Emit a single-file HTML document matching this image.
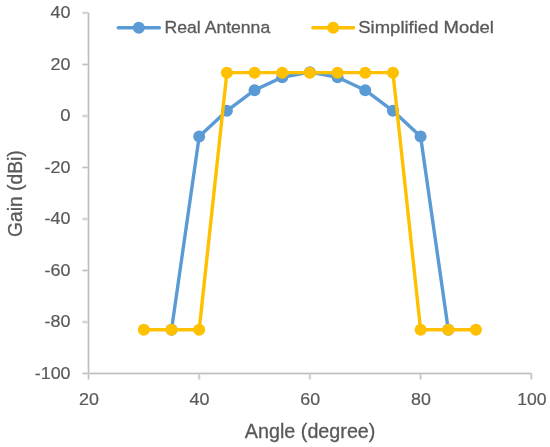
<!DOCTYPE html>
<html><head><meta charset="utf-8"><title>Gain vs Angle</title>
<style>
html,body{margin:0;padding:0;background:#fff;}
body{width:550px;height:447px;overflow:hidden;}
svg{display:block;font-family:'Liberation Sans', Arial, sans-serif;}
</style></head>
<body>
<svg width="550" height="447" viewBox="0 0 550 447">
<rect width="550" height="447" fill="#fff"/>
<path d="M88.50 12.90V373.50 M88.50 373.50H531.30 M82.50 373.50H88.50 M82.50 321.98H88.50 M82.50 270.47H88.50 M82.50 218.96H88.50 M82.50 167.44H88.50 M82.50 115.93H88.50 M82.50 64.41H88.50 M82.50 12.90H88.50 M88.50 373.50V379.50 M199.20 373.50V379.50 M309.90 373.50V379.50 M420.60 373.50V379.50 M531.30 373.50V379.50" stroke="#E8E8E8" stroke-width="3" fill="none"/>
<path d="M88.50 12.90V373.50 M88.50 373.50H531.30 M82.50 373.50H88.50 M82.50 321.98H88.50 M82.50 270.47H88.50 M82.50 218.96H88.50 M82.50 167.44H88.50 M82.50 115.93H88.50 M82.50 64.41H88.50 M82.50 12.90H88.50 M88.50 373.50V379.50 M199.20 373.50V379.50 M309.90 373.50V379.50 M420.60 373.50V379.50 M531.30 373.50V379.50" stroke="#BFBFBF" stroke-width="1" fill="none"/>
<text x="34.78" y="378.85" font-size="17.3" textLength="35.71" lengthAdjust="spacingAndGlyphs" fill="#595959" stroke="#595959" stroke-width="0.2">-100</text>
<text x="44.61" y="327.34" font-size="17.3" textLength="25.89" lengthAdjust="spacingAndGlyphs" fill="#595959" stroke="#595959" stroke-width="0.2">-80</text>
<text x="44.61" y="275.82" font-size="17.3" textLength="25.89" lengthAdjust="spacingAndGlyphs" fill="#595959" stroke="#595959" stroke-width="0.2">-60</text>
<text x="44.61" y="224.31" font-size="17.3" textLength="25.89" lengthAdjust="spacingAndGlyphs" fill="#595959" stroke="#595959" stroke-width="0.2">-40</text>
<text x="44.61" y="172.79" font-size="17.3" textLength="25.89" lengthAdjust="spacingAndGlyphs" fill="#595959" stroke="#595959" stroke-width="0.2">-20</text>
<text x="60.25" y="121.28" font-size="17.3" textLength="10.27" lengthAdjust="spacingAndGlyphs" fill="#595959" stroke="#595959" stroke-width="0.2">0</text>
<text x="50.61" y="69.77" font-size="17.3" textLength="19.89" lengthAdjust="spacingAndGlyphs" fill="#595959" stroke="#595959" stroke-width="0.2">20</text>
<text x="50.56" y="18.25" font-size="17.3" textLength="19.94" lengthAdjust="spacingAndGlyphs" fill="#595959" stroke="#595959" stroke-width="0.2">40</text>
<text x="78.94" y="404.60" font-size="17.3" textLength="19.89" lengthAdjust="spacingAndGlyphs" fill="#595959" stroke="#595959" stroke-width="0.2">20</text>
<text x="189.59" y="404.60" font-size="17.3" textLength="19.94" lengthAdjust="spacingAndGlyphs" fill="#595959" stroke="#595959" stroke-width="0.2">40</text>
<text x="300.33" y="404.60" font-size="17.3" textLength="19.90" lengthAdjust="spacingAndGlyphs" fill="#595959" stroke="#595959" stroke-width="0.2">60</text>
<text x="411.07" y="404.60" font-size="17.3" textLength="19.86" lengthAdjust="spacingAndGlyphs" fill="#595959" stroke="#595959" stroke-width="0.2">80</text>
<text x="517.19" y="404.60" font-size="17.3" textLength="29.35" lengthAdjust="spacingAndGlyphs" fill="#595959" stroke="#595959" stroke-width="0.2">100</text>
<text x="244.86" y="438.00" font-size="20.3" textLength="130.56" lengthAdjust="spacingAndGlyphs" fill="#595959" stroke="#595959" stroke-width="0.3">Angle (degree)</text>
<g transform="translate(21.5 0) rotate(-90)"><text x="-237.07" y="0.00" font-size="20.3" textLength="86.76" lengthAdjust="spacingAndGlyphs" fill="#595959" stroke="#595959" stroke-width="0.3">Gain (dBi)</text></g>
<polyline points="171.53,329.71 199.20,136.53 226.88,110.78 254.55,90.17 282.23,77.29 309.90,72.14 337.58,77.29 365.25,90.17 392.93,110.78 420.60,136.53 448.28,329.71" fill="none" stroke="#5B9BD5" stroke-width="3.4" stroke-linejoin="round"/><circle cx="171.53" cy="329.71" r="6.0" fill="#5B9BD5"/><circle cx="199.20" cy="136.53" r="6.0" fill="#5B9BD5"/><circle cx="226.88" cy="110.78" r="6.0" fill="#5B9BD5"/><circle cx="254.55" cy="90.17" r="6.0" fill="#5B9BD5"/><circle cx="282.23" cy="77.29" r="6.0" fill="#5B9BD5"/><circle cx="309.90" cy="72.14" r="6.0" fill="#5B9BD5"/><circle cx="337.58" cy="77.29" r="6.0" fill="#5B9BD5"/><circle cx="365.25" cy="90.17" r="6.0" fill="#5B9BD5"/><circle cx="392.93" cy="110.78" r="6.0" fill="#5B9BD5"/><circle cx="420.60" cy="136.53" r="6.0" fill="#5B9BD5"/><circle cx="448.28" cy="329.71" r="6.0" fill="#5B9BD5"/>
<polyline points="143.85,329.71 171.53,329.71 199.20,329.71 226.88,72.66 254.55,72.66 282.23,72.66 309.90,72.66 337.58,72.66 365.25,72.66 392.93,72.66 420.60,329.71 448.28,329.71 475.95,329.71" fill="none" stroke="#FFC000" stroke-width="3.4" stroke-linejoin="round"/><circle cx="143.85" cy="329.71" r="6.0" fill="#FFC000"/><circle cx="171.53" cy="329.71" r="6.0" fill="#FFC000"/><circle cx="199.20" cy="329.71" r="6.0" fill="#FFC000"/><circle cx="226.88" cy="72.66" r="6.0" fill="#FFC000"/><circle cx="254.55" cy="72.66" r="6.0" fill="#FFC000"/><circle cx="282.23" cy="72.66" r="6.0" fill="#FFC000"/><circle cx="309.90" cy="72.66" r="6.0" fill="#FFC000"/><circle cx="337.58" cy="72.66" r="6.0" fill="#FFC000"/><circle cx="365.25" cy="72.66" r="6.0" fill="#FFC000"/><circle cx="392.93" cy="72.66" r="6.0" fill="#FFC000"/><circle cx="420.60" cy="329.71" r="6.0" fill="#FFC000"/><circle cx="448.28" cy="329.71" r="6.0" fill="#FFC000"/><circle cx="475.95" cy="329.71" r="6.0" fill="#FFC000"/>
<path d="M118.2 27.7H159.4" stroke="#5B9BD5" stroke-width="3.4" stroke-linecap="round"/><circle cx="138.8" cy="27.7" r="6.0" fill="#5B9BD5"/>
<text x="164.57" y="33.00" font-size="17.1" textLength="105.63" lengthAdjust="spacingAndGlyphs" fill="#595959" stroke="#595959" stroke-width="0.3">Real Antenna</text>
<path d="M312.8 27.7H353.5" stroke="#FFC000" stroke-width="3.4" stroke-linecap="round"/><circle cx="333.15" cy="27.7" r="6.0" fill="#FFC000"/>
<text x="358.26" y="33.00" font-size="17.1" textLength="135.68" lengthAdjust="spacingAndGlyphs" fill="#595959" stroke="#595959" stroke-width="0.3">Simplified Model</text>
</svg>
</body></html>
